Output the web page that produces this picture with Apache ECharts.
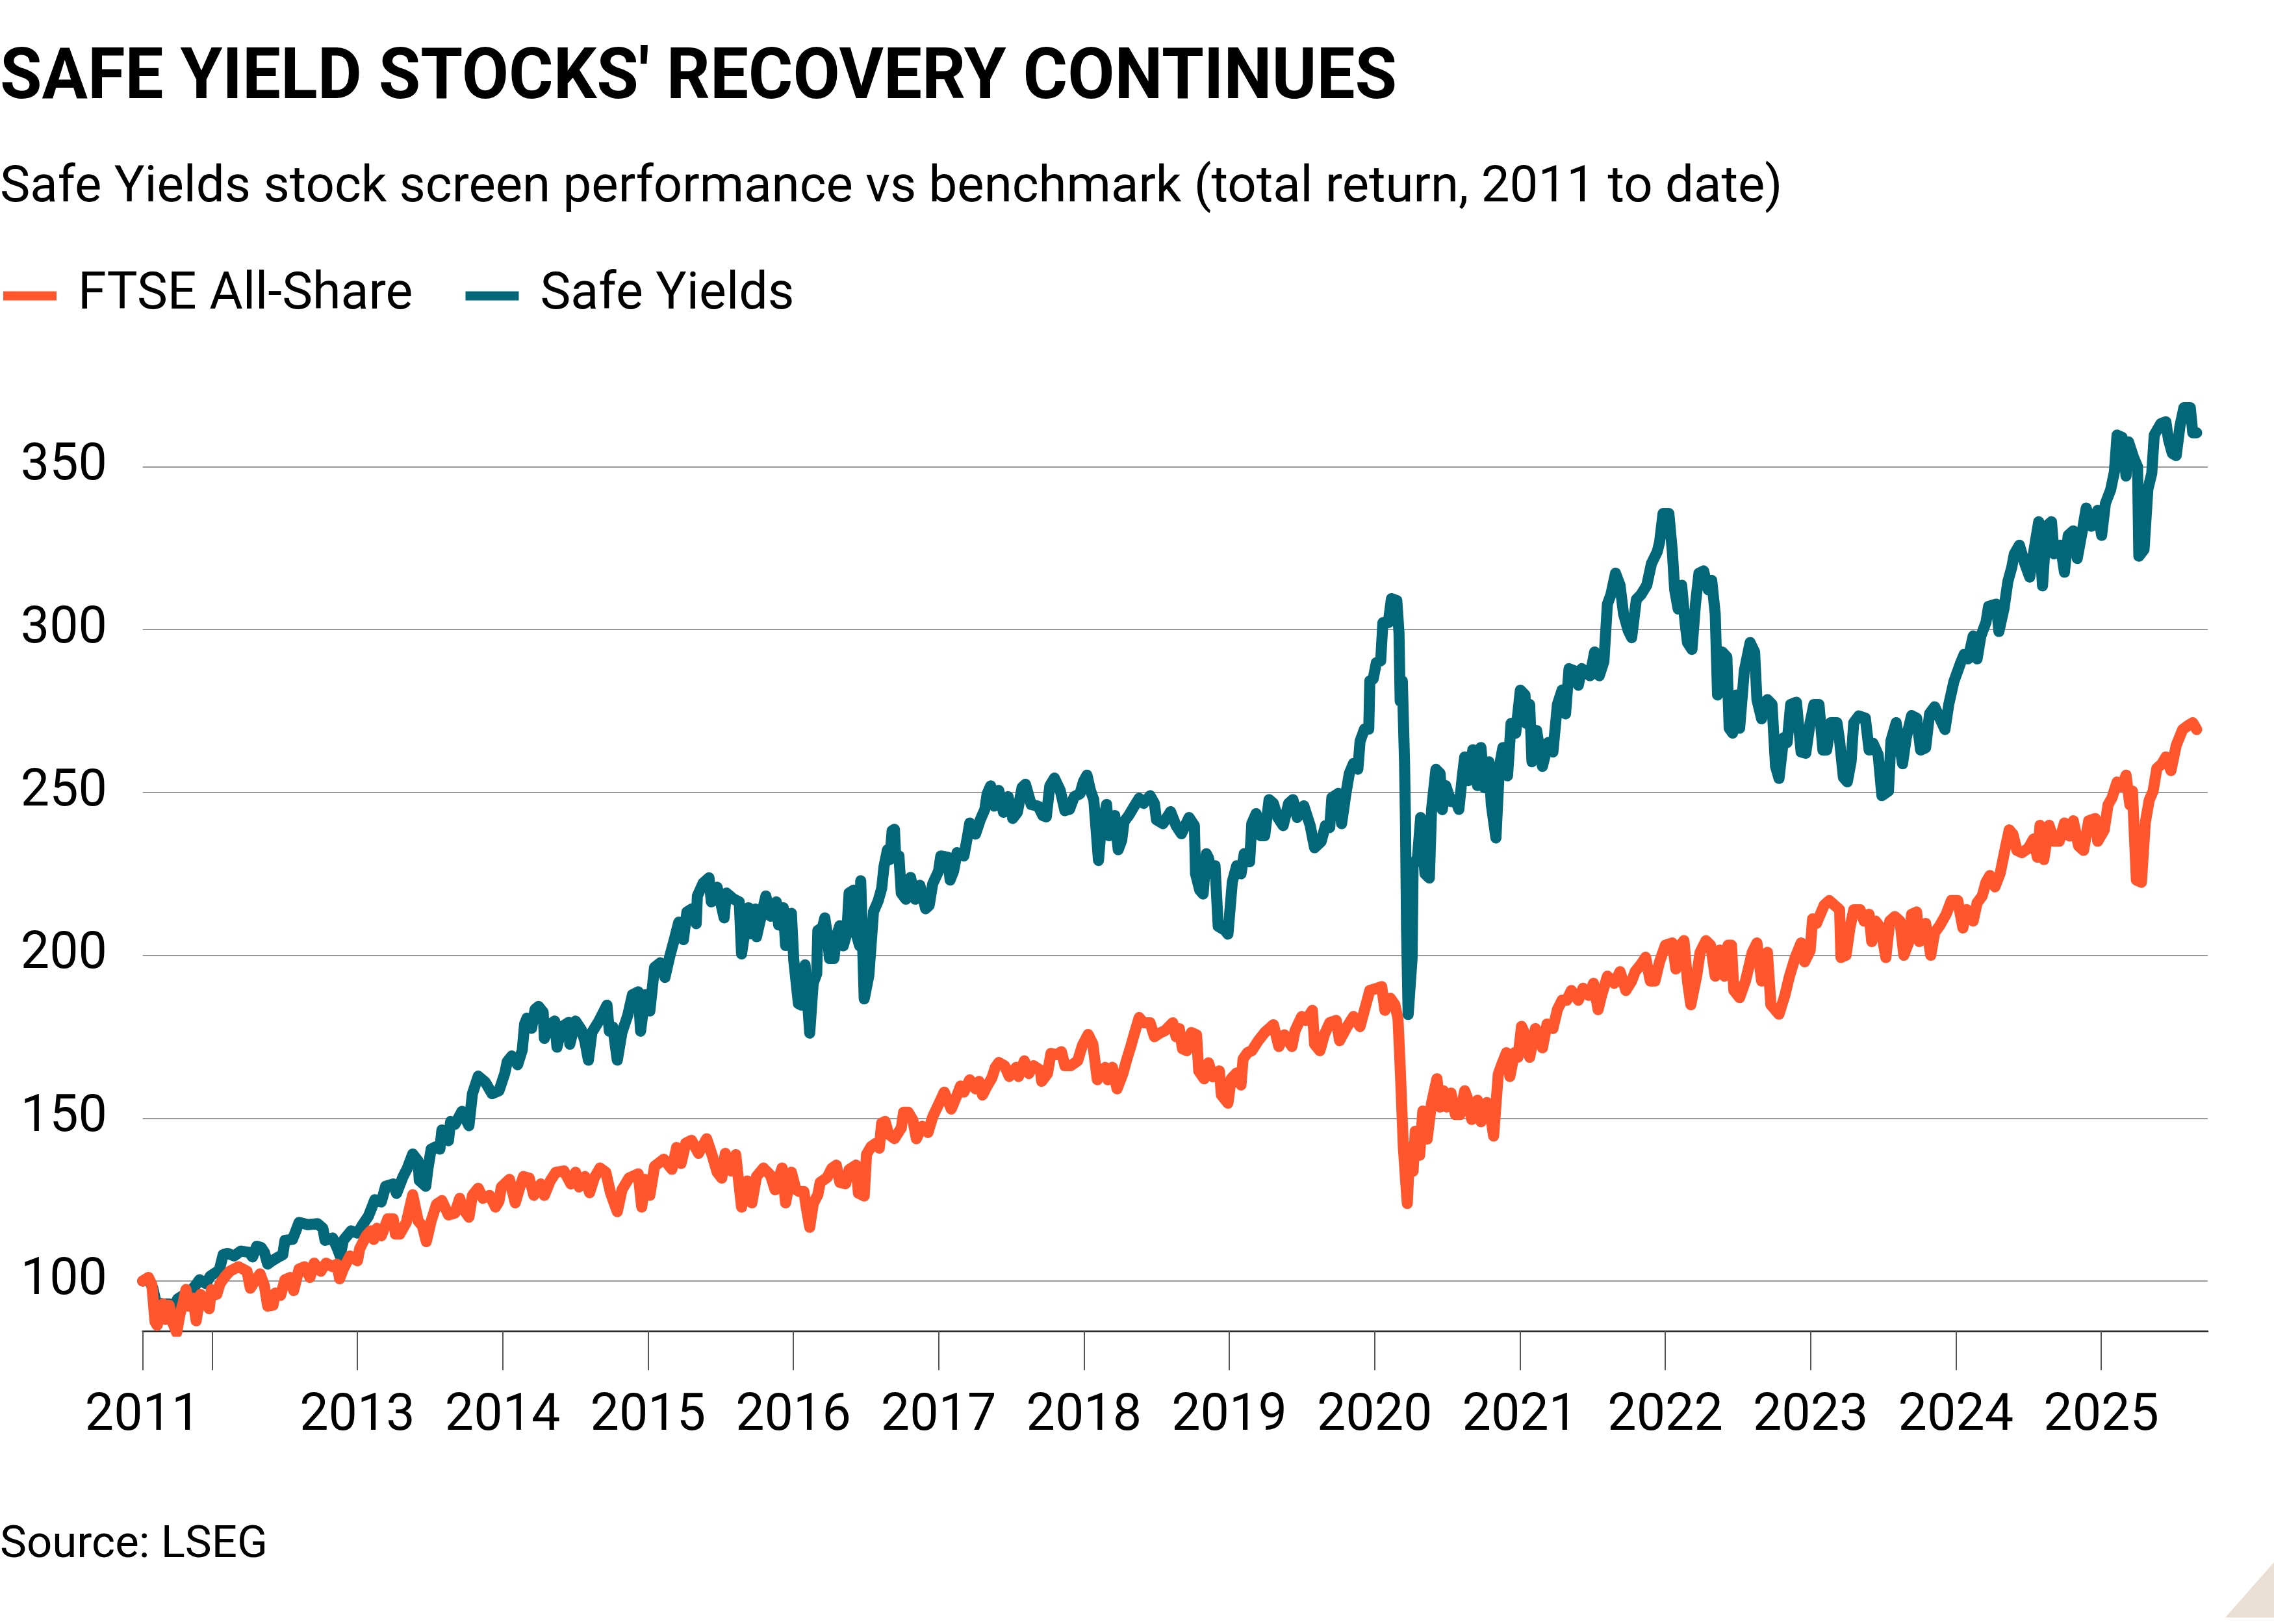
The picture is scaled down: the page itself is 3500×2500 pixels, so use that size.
<!DOCTYPE html>
<html>
<head>
<meta charset="utf-8">
<title>Safe yield stocks' recovery continues</title>
<script src="https://cdn.jsdelivr.net/npm/echarts@6/dist/echarts.min.js"></script>
<style>
  html, body { margin: 0; padding: 0; background: #fff; }
  #chart { width: 3500px; height: 2500px; }
</style>
</head>
<body>
<div id="chart"></div>
<script>
// [decimal year, total return index]
const ftse = [
  [2011.523,100],[2011.563,101.1],[2011.586,98.9],[2011.608,87.5],[2011.623,86.4],[2011.663,93.0],[2011.683,88.2],[2011.705,92.6],[2011.727,87.5],[2011.757,84.2],
  [2011.779,89.7],[2011.802,93.4],[2011.821,97.4],[2011.839,92.3],[2011.869,94.8],[2011.891,87.8],[2011.921,95.9],[2011.958,93.0],[2011.981,91.5],[2011.996,97.4],
  [2012.033,95.9],[2012.055,99.2],[2012.092,101.5],[2012.122,103.0],[2012.182,104.4],[2012.212,103.7],[2012.241,103.0],[2012.264,97.8],[2012.293,100.0],[2012.331,102.2],
  [2012.361,98.5],[2012.383,92.3],[2012.420,92.6],[2012.435,96.3],[2012.472,95.6],[2012.502,100.4],[2012.539,101.1],[2012.562,97.1],[2012.599,103.7],[2012.636,104.4],
  [2012.674,101.1],[2012.703,105.5],[2012.748,103.0],[2012.785,105.5],[2012.830,104.4],[2012.860,105.2],[2012.878,100.7],[2012.904,103.7],[2012.949,107.7],[2013.001,106.2],
  [2013.016,109.9],[2013.061,113.9],[2013.091,115.4],[2013.113,112.8],[2013.135,116.2],[2013.165,113.9],[2013.210,119.1],[2013.247,119.1],[2013.262,114.4],[2013.292,114.4],
  [2013.337,118.0],[2013.381,126.5],[2013.419,118.4],[2013.448,116.9],[2013.475,112.1],[2013.508,118.4],[2013.545,123.6],[2013.582,124.7],[2013.627,120.3],
  [2013.672,120.9],[2013.704,125.4],[2013.728,122.2],[2013.768,119.6],[2013.792,126.3],[2013.832,128.5],[2013.864,125.4],[2013.911,126.3],[2013.951,122.7],[2013.975,124.5],
  [2013.991,128.9],[2014.047,131.2],[2014.087,124.0],[2014.119,128.9],[2014.143,132.1],[2014.183,131.6],[2014.215,126.3],[2014.263,129.8],[2014.287,126.3],[2014.327,130.7],
  [2014.366,133.4],[2014.422,133.8],[2014.470,129.8],[2014.502,133.4],[2014.526,128.9],[2014.566,132.1],[2014.598,127.1],[2014.630,131.6],[2014.670,134.7],[2014.710,133.4],
  [2014.742,127.1],[2014.789,121.3],[2014.821,128.0],[2014.869,131.6],[2014.933,132.9],[2014.957,122.7],[2014.981,131.2],[2015.013,126.3],[2015.045,135.2],[2015.109,137.4],
  [2015.165,134.3],[2015.197,141.0],[2015.228,136.1],[2015.260,142.3],[2015.300,143.2],[2015.348,139.2],[2015.404,143.7],[2015.444,138.3],[2015.476,133.4],[2015.508,131.6],
  [2015.532,139.2],[2015.572,133.8],[2015.604,138.8],[2015.644,122.7],[2015.683,130.7],[2015.715,124.0],[2015.747,132.1],[2015.795,134.7],[2015.843,132.5],[2015.875,128.0],
  [2015.923,134.7],[2015.947,124.0],[2015.987,133.4],[2016.019,128.0],
  [2016.041,127.5],[2016.073,127.5],[2016.089,122.7],[2016.113,116.5],[2016.137,123.7],[2016.169,126.5],[2016.185,130.3],[2016.233,131.8],[2016.265,134.6],[2016.296,135.6],
  [2016.320,130.3],[2016.360,129.9],[2016.384,134.2],[2016.432,135.6],[2016.448,127.0],[2016.488,126.1],[2016.504,138.9],[2016.536,141.3],[2016.568,142.3],[2016.592,140.8],
  [2016.608,148.5],[2016.632,149.0],[2016.656,145.1],[2016.696,143.7],[2016.743,147.0],[2016.759,151.8],[2016.791,151.8],[2016.823,149.4],[2016.847,143.7],[2016.887,147.5],
  [2016.927,145.6],[2016.959,150.4],[2016.999,154.2],[2017.039,158.0],[2017.087,152.8],[2017.127,157.1],[2017.151,159.9],[2017.174,158.0],[2017.214,161.8],[2017.254,159.0],
  [2017.278,161.3],[2017.302,157.1],[2017.334,159.9],[2017.366,162.3],[2017.390,165.6],[2017.414,167.1],[2017.454,166.1],[2017.486,162.8],[2017.534,165.6],[2017.550,162.8],
  [2017.590,167.6],[2017.621,163.7],[2017.653,166.1],[2017.701,164.7],[2017.709,161.3],[2017.749,163.7],[2017.773,169.9],[2017.813,169.5],[2017.845,170.4],[2017.869,166.1],
  [2017.909,166.1],[2017.957,167.6],[2017.989,172.3],[2018.029,175.7],[2018.061,172.8],[2018.092,161.8],[2018.124,164.7],[2018.148,165.6],[2018.164,161.8],[2018.196,165.6],
  [2018.228,159.0],[2018.268,163.7],[2018.292,167.6],[2018.324,172.3],[2018.348,176.1],[2018.380,180.9],
  [2018.410,179.3],[2018.455,179.3],[2018.485,175.0],[2018.529,176.3],[2018.559,176.9],[2018.611,179.3],[2018.634,175.0],[2018.656,177.5],[2018.678,171.3],[2018.708,170.7],
  [2018.738,176.3],[2018.775,175.6],[2018.790,164.5],[2018.827,162.1],[2018.857,167.0],[2018.887,162.7],[2018.932,164.5],[2018.946,157.1],[2018.991,154.6],[2019.013,162.1],
  [2019.051,163.9],[2019.081,160.2],[2019.095,168.2],[2019.125,170.1],[2019.155,170.7],[2019.200,173.8],[2019.244,176.3],[2019.304,178.7],[2019.341,172.0],[2019.379,175.6],
  [2019.431,172.0],[2019.453,176.9],[2019.498,181.2],[2019.528,180.0],[2019.572,183.1],[2019.587,172.7],[2019.624,170.7],[2019.654,175.6],[2019.691,179.3],[2019.736,180.0],
  [2019.759,173.8],[2019.811,178.1],[2019.855,181.2],[2019.900,178.1],[2019.930,183.1],[2019.967,189.2],[2020.012,189.8],[2020.049,190.4],[2020.071,183.1],[2020.109,186.8],
  [2020.139,184.9],[2020.161,180.6],[2020.176,165.8],[2020.198,141.1],[2020.213,131.2],[2020.225,123.8],[2020.243,141.1],[2020.265,133.7],[2020.280,146.0],[2020.310,138.6],
  [2020.332,152.2],[2020.362,143.6],[2020.392,154.6],[2020.429,162.1],[2020.451,153.4],[2020.474,158.4],[2020.496,153.4],[2020.526,157.7],
  [2020.556,151.1],[2020.588,151.1],[2020.620,158.4],[2020.644,155.5],[2020.668,149.6],[2020.708,155.5],[2020.732,148.9],[2020.772,154.8],[2020.795,151.8],[2020.819,144.5],
  [2020.851,163.5],[2020.875,166.5],[2020.907,170.1],[2020.931,162.8],[2020.963,170.1],[2020.987,168.7],[2021.011,178.2],[2021.035,175.8],[2021.067,168.7],[2021.107,177.5],
  [2021.155,171.6],[2021.187,178.9],[2021.227,177.5],[2021.258,183.3],[2021.290,186.2],[2021.322,186.2],[2021.354,189.2],[2021.402,186.2],[2021.434,189.9],[2021.474,187.7],
  [2021.506,191.4],[2021.538,183.3],[2021.562,187.7],[2021.602,193.6],[2021.650,191.4],[2021.689,195.0],[2021.729,189.2],[2021.769,192.1],[2021.793,195.0],[2021.833,197.2],
  [2021.865,199.4],[2021.897,192.1],[2021.929,192.1],[2021.961,198.0],[2022.001,203.1],[2022.049,203.8],[2022.073,195.8],[2022.105,203.1],[2022.129,204.5],[2022.153,192.1],
  [2022.176,184.8],[2022.216,193.6],[2022.240,200.9],[2022.280,204.5],[2022.312,203.1],[2022.344,193.6],[2022.376,201.6],[2022.408,193.6],[2022.432,203.1],[2022.456,203.1],
  [2022.472,189.2],[2022.512,187.0],[2022.552,192.1],[2022.599,200.9],[2022.631,203.8],[2022.663,192.1],[2022.703,200.9],[2022.727,184.8],[2022.783,181.9],[2022.823,187.7],
  [2022.855,193.6],[2022.895,199.4],[2022.935,203.8],[2022.959,198.0],
  [2022.997,201.4],[2023.014,211.2],[2023.041,209.8],[2023.067,212.6],[2023.094,215.4],[2023.129,216.8],[2023.164,215.4],[2023.200,214.0],[2023.209,199.3],[2023.244,200.0],
  [2023.271,208.4],[2023.297,214.0],[2023.341,214.0],[2023.368,210.5],[2023.403,212.6],[2023.421,204.2],[2023.447,210.5],[2023.483,208.4],[2023.518,199.3],[2023.545,210.5],
  [2023.580,211.9],[2023.615,210.5],[2023.642,200.0],[2023.677,204.2],[2023.695,212.6],[2023.730,213.3],[2023.748,204.2],[2023.792,209.8],[2023.827,200.0],[2023.854,207.0],
  [2023.889,209.1],[2023.933,212.6],[2023.969,216.8],[2024.013,216.8],[2024.048,208.4],[2024.075,214.0],[2024.119,210.5],[2024.146,216.1],[2024.181,218.2],[2024.207,222.4],
  [2024.234,224.5],[2024.269,221.0],[2024.305,225.2],[2024.340,232.9],[2024.367,238.5],[2024.393,237.1],[2024.420,232.2],[2024.455,231.5],[2024.499,232.9],[2024.534,235.7],
  [2024.561,230.1],[2024.579,239.9],[2024.605,229.4],[2024.641,239.9],[2024.676,235.0],[2024.711,235.0],[2024.747,240.6],[2024.782,236.6],[2024.808,241.3],[2024.844,233.6],
  [2024.879,232.2],[2024.914,241.3],[2024.959,242.0],[2024.976,235.0],[2025.021,238.5],[2025.047,246.2],[2025.074,248.3],[2025.109,253.2],[2025.144,251.8],[2025.171,255.3],
  [2025.197,246.2],[2025.215,250.4],[2025.242,223.1],[2025.277,222.4],[2025.303,240.6],[2025.330,247.6],[2025.357,250.4],[2025.383,257.4],[2025.418,258.8],[2025.445,260.9],
  [2025.480,256.7],[2025.516,264.4],[2025.560,269.3],[2025.604,270.7],[2025.630,271.4],[2025.657,269.3]
];

const safeYields = [
  [2011.523,100],[2011.563,100.7],[2011.593,97.8],[2011.615,93.4],[2011.660,93.0],[2011.705,93.0],[2011.735,91.9],[2011.764,94.5],[2011.802,95.6],[2011.854,97.1],
  [2011.884,98.5],[2011.914,100.4],[2011.958,99.2],[2011.988,101.5],[2012.025,102.6],[2012.048,103.0],[2012.077,108.1],[2012.107,108.5],[2012.152,107.7],[2012.197,109.2],
  [2012.256,108.8],[2012.279,107.4],[2012.308,110.7],[2012.338,110.3],[2012.361,108.8],[2012.383,105.2],[2012.413,106.2],[2012.457,107.4],[2012.487,108.1],[2012.502,112.5],
  [2012.554,112.8],[2012.577,115.4],[2012.599,118.0],[2012.659,117.3],[2012.726,117.6],[2012.763,116.2],[2012.778,112.5],[2012.830,113.2],[2012.860,110.3],[2012.882,107.7],
  [2012.904,112.5],[2012.957,115.4],[2013.001,114.7],[2013.031,116.9],[2013.076,119.9],[2013.121,125.0],[2013.165,124.3],[2013.195,129.1],[2013.247,129.8],[2013.270,126.9],
  [2013.314,132.0],[2013.344,134.6],[2013.381,139.0],[2013.419,136.8],[2013.426,130.9],[2013.471,129.1],[2013.486,134.6],[2013.508,140.5],[2013.538,141.2],[2013.568,140.5],
  [2013.582,146.4],[2013.627,143.1],[2013.642,149.0],
  [2013.672,148.1],[2013.720,152.1],[2013.768,147.7],[2013.792,157.5],[2013.832,162.9],[2013.880,161.1],[2013.927,157.5],[2013.975,158.4],[2014.015,163.8],[2014.031,167.3],
  [2014.063,169.1],[2014.103,166.4],[2014.135,170.9],[2014.151,178.9],[2014.167,180.7],[2014.199,177.6],[2014.223,183.4],[2014.247,184.3],[2014.279,182.5],[2014.287,174.5],
  [2014.327,178.9],[2014.358,179.8],[2014.374,171.8],[2014.406,178.0],[2014.454,179.4],[2014.462,172.7],[2014.502,179.8],[2014.542,177.1],[2014.566,173.6],[2014.590,167.8],
  [2014.614,176.3],[2014.662,179.8],[2014.718,184.7],[2014.734,176.7],[2014.758,178.0],[2014.789,167.8],[2014.821,176.3],[2014.861,181.6],[2014.893,187.9],[2014.933,188.8],
  [2014.949,176.7],[2014.981,187.9],[2015.013,182.9],[2015.045,196.3],[2015.085,197.7],[2015.117,193.2],[2015.149,199.5],[2015.181,204.8],[2015.212,210.2],[2015.244,204.8],
  [2015.268,213.3],[2015.300,214.2],[2015.332,209.7],[2015.340,218.2],[2015.380,222.2],[2015.420,223.8],[2015.436,216.4],[2015.476,220.9],[2015.524,211.5],[2015.540,219.1],
  [2015.588,217.3],[2015.628,216.4],[2015.644,200.4],[2015.691,214.6],[2015.707,206.6],[2015.739,214.2],[2015.747,205.7],[2015.811,218.2],[2015.843,212.0],[2015.883,216.4],
  [2015.899,209.3],[2015.931,214.6],[2015.947,203.0],[2015.987,212.9],[2016.003,198.6],[2016.035,185.2],[2016.057,184.7],[2016.081,197.1],[2016.113,176.1],[2016.137,191.4],
  [2016.161,194.3],[2016.169,207.6],
  [2016.201,208.6],[2016.217,211.5],[2016.233,206.7],[2016.249,199.0],[2016.280,199.0],[2016.296,205.7],[2016.320,209.1],[2016.344,202.9],[2016.368,206.7],[2016.384,219.1],
  [2016.416,220.0],[2016.432,206.7],[2016.456,202.9],[2016.464,222.9],[2016.488,186.6],[2016.520,193.8],[2016.552,213.4],[2016.584,216.7],[2016.608,220.5],[2016.624,227.2],
  [2016.648,232.4],[2016.664,229.4],[2016.680,238.2],[2016.696,238.7],[2016.704,231.0],[2016.727,230.5],[2016.743,219.1],[2016.775,217.2],[2016.807,223.9],[2016.839,217.2],
  [2016.871,221.5],[2016.911,214.3],[2016.935,215.3],[2016.959,221.9],[2016.999,225.8],[2017.015,230.5],[2017.063,230.1],[2017.079,223.1],[2017.103,225.8],[2017.127,231.5],
  [2017.174,230.5],[2017.198,236.3],[2017.214,240.6],[2017.254,237.2],[2017.286,241.5],[2017.318,244.8],[2017.334,249.6],[2017.358,252.0],[2017.382,245.8],[2017.414,250.6],
  [2017.446,243.9],[2017.478,248.7],[2017.510,242.0],[2017.542,243.9],[2017.574,251.5],[2017.598,252.5],[2017.637,246.3],[2017.685,245.8],[2017.717,242.9],[2017.741,242.5],
  [2017.765,252.0],[2017.797,254.4],[2017.837,250.6],[2017.869,244.4],[2017.901,244.8],[2017.933,248.7],[2017.973,249.6],[2017.997,253.4],[2018.021,255.3],[2018.045,250.6],
  [2018.068,247.7],[2018.100,229.1],[2018.116,237.7],[2018.156,246.3],[2018.172,236.7],[2018.212,242.9],[2018.236,232.4],[2018.260,235.3],[2018.276,241.0],[2018.308,242.9],
  [2018.340,245.3],[2018.380,248.2],
  [2018.410,246.6],[2018.455,249.0],[2018.485,246.6],[2018.499,241.6],[2018.544,240.4],[2018.596,244.1],[2018.634,239.8],[2018.671,237.3],[2018.723,242.3],[2018.760,239.8],
  [2018.768,225.0],[2018.797,220.0],[2018.820,218.8],[2018.842,231.2],[2018.857,229.9],[2018.879,225.0],[2018.902,227.5],[2018.924,208.9],[2018.969,207.7],[2018.991,206.5],
  [2019.021,222.5],[2019.051,227.5],[2019.081,225.0],[2019.103,231.2],[2019.140,228.7],[2019.155,240.4],[2019.185,243.5],[2019.215,236.7],[2019.244,236.7],[2019.274,247.8],
  [2019.304,246.6],[2019.334,242.3],[2019.371,239.8],[2019.408,246.6],[2019.438,247.8],[2019.468,242.3],[2019.513,245.9],[2019.557,239.8],[2019.587,233.0],[2019.632,234.9],
  [2019.662,239.8],[2019.691,239.2],[2019.706,248.4],[2019.751,249.7],[2019.773,240.4],[2019.803,249.7],[2019.826,255.8],[2019.855,258.9],[2019.885,257.1],[2019.900,265.7],
  [2019.930,269.4],[2019.960,269.4],[2019.967,284.2],[2019.990,284.8],[2020.012,289.8],[2020.042,290.4],[2020.057,302.1],[2020.094,302.1],[2020.116,309.5],[2020.153,308.9],
  [2020.168,299.0],[2020.176,278.0],[2020.191,284.2],[2020.206,259.5],[2020.213,239.8],[2020.220,207.7],[2020.231,181.8],[2020.258,199.1],[2020.265,227.5],[2020.295,229.9],
  [2020.317,242.3],[2020.347,225.0],[2020.377,223.7],[2020.392,244.7],[2020.422,257.1],[2020.451,255.8],[2020.466,244.7],[2020.489,252.1],[2020.526,247.2],
  [2020.556,247.7],[2020.580,244.8],[2020.604,255.1],[2020.620,260.9],[2020.644,253.6],[2020.676,263.1],[2020.708,252.1],[2020.732,263.8],[2020.756,251.4],[2020.787,259.4],
  [2020.803,246.3],[2020.835,236.0],[2020.859,258.0],[2020.883,263.8],[2020.915,255.1],[2020.939,271.2],[2020.971,268.2],[2021.003,281.4],[2021.035,279.9],[2021.043,271.2],
  [2021.067,277.0],[2021.083,259.4],[2021.115,269.0],[2021.155,258.0],[2021.195,265.3],[2021.227,262.4],[2021.258,277.0],[2021.290,281.4],[2021.314,274.1],[2021.338,288.0],
  [2021.378,287.3],[2021.402,282.9],[2021.426,288.0],[2021.482,285.8],[2021.514,293.1],[2021.546,285.8],[2021.578,290.2],[2021.602,307.8],[2021.626,310.7],[2021.658,317.3],
  [2021.689,313.6],[2021.713,304.8],[2021.745,299.7],[2021.769,297.5],[2021.801,309.2],[2021.833,310.7],[2021.873,313.6],[2021.905,320.2],[2021.945,323.9],[2021.961,326.8],
  [2021.985,335.6],[2022.025,335.6],[2022.049,323.9],[2022.065,312.2],[2022.089,306.3],[2022.113,313.6],[2022.137,301.9],[2022.153,296.0],[2022.184,293.9],[2022.208,307.8],
  [2022.232,317.3],[2022.264,318.0],[2022.296,312.2],[2022.320,315.1],[2022.344,304.8],[2022.360,279.9],[2022.392,293.1],[2022.424,291.6],[2022.440,269.7],[2022.464,268.2],
  [2022.488,279.9],[2022.512,269.7],[2022.544,287.3],[2022.584,296.0],[2022.615,293.1],[2022.631,278.5],[2022.663,272.6],[2022.703,278.5],[2022.735,277.0],[2022.759,258.0],
  [2022.783,254.3],[2022.815,266.8],[2022.839,265.3],[2022.863,277.0],[2022.903,277.7],[2022.935,262.4],[2022.967,262.0],
  [2022.997,271.4],[2023.023,277.0],[2023.058,277.0],[2023.085,263.0],[2023.111,263.0],[2023.138,271.4],[2023.182,271.4],[2023.200,265.8],[2023.226,254.6],[2023.253,253.2],
  [2023.279,259.5],[2023.297,271.4],[2023.332,273.5],[2023.377,272.8],[2023.403,263.0],[2023.430,265.1],[2023.465,261.6],[2023.491,249.0],[2023.536,250.4],[2023.553,265.8],
  [2023.589,271.4],[2023.633,258.8],[2023.659,266.9],[2023.695,273.6],[2023.730,272.8],[2023.757,263.0],[2023.792,263.7],[2023.819,274.2],[2023.854,276.3],[2023.889,272.8],
  [2023.925,269.3],[2023.951,277.0],[2023.986,284.0],[2024.031,289.6],[2024.057,292.4],[2024.084,291.0],[2024.119,298.0],[2024.146,291.0],[2024.172,298.0],[2024.207,302.2],
  [2024.225,307.1],[2024.278,307.8],[2024.296,299.4],[2024.331,306.4],[2024.358,314.8],[2024.384,319.0],[2024.402,323.2],[2024.437,325.9],[2024.473,320.4],[2024.508,316.1],
  [2024.543,325.9],[2024.570,333.1],[2024.596,313.4],[2024.623,331.7],[2024.658,333.1],[2024.676,323.2],[2024.720,325.9],[2024.747,317.6],[2024.773,328.9],[2024.808,330.3],
  [2024.835,321.8],[2024.870,330.3],[2024.897,337.3],[2024.932,331.7],[2024.976,336.6],[2025.003,328.9],[2025.029,338.7],[2025.065,342.9],[2025.091,348.5],[2025.109,359.7],
  [2025.144,359.0],[2025.171,347.1],[2025.188,357.6],[2025.224,352.7],[2025.250,350.0],[2025.259,322.5],[2025.295,324.6],[2025.321,343.0],[2025.348,348.0],[2025.365,359.7],
  [2025.410,363.2],[2025.445,363.8],[2025.463,358.3],[2025.489,354.1],[2025.516,353.4],[2025.542,362.5],[2025.569,368.1],[2025.613,368.1],[2025.630,360.4],[2025.657,360.4]
];

// first tick sits at the start of the data, the 2012 label is dropped
const tickYears = [2011.523, 2012, 2013, 2014, 2015, 2016, 2017, 2018, 2019, 2020, 2021, 2022, 2023, 2024, 2025];
const labelYears = [2011.523, 2013, 2014, 2015, 2016, 2017, 2018, 2019, 2020, 2021, 2022, 2023, 2024, 2025];

const ORANGE = '#ff562d';
const TEAL = '#03677a';
const FONT = 'Roboto';

const TITLE = "SAFE YIELD STOCKS' RECOVERY CONTINUES";
const TITLE_FONT = 'bold 110px Roboto';
const TITLE_WIDTH = 2150;

// squeeze the title to the condensed width of the original headline
const measureCtx = document.createElement('canvas').getContext('2d');
measureCtx.font = TITLE_FONT;
const titleScale = TITLE_WIDTH / measureCtx.measureText(TITLE).width;

const chart = echarts.init(document.getElementById('chart'));

chart.setOption({
  animation: false,
  backgroundColor: '#fff',
  color: [ORANGE, TEAL],
  grid: {
    left: 219.6,
    right: 102,
    top: 593,
    bottom: 450.7,
    containLabel: false,
    outerBoundsMode: 'none'
  },
  legend: {
    data: ['FTSE All-Share', 'Safe Yields'],
    left: 0,
    top: 411,
    orient: 'horizontal',
    icon: 'rect',
    itemWidth: 82,
    itemHeight: 14,
    itemGap: 81,
    selectedMode: false,
    textStyle: {
      fontFamily: FONT,
      fontSize: 79,
      color: '#000',
      padding: [0, 0, 0, 28]
    }
  },
  xAxis: {
    type: 'value',
    min: 2011.523,
    max: 2025.733,
    splitLine: { show: false },
    axisLine: { show: true, onZero: false, lineStyle: { color: '#222', width: 2.5 } },
    axisTick: {
      show: true,
      customValues: tickYears,
      length: 60,
      lineStyle: { color: '#555', width: 2 }
    },
    axisLabel: {
      customValues: labelYears,
      formatter: v => String(Math.floor(v)),
      margin: 92,
      fontFamily: FONT,
      fontSize: 79,
      color: '#000'
    }
  },
  yAxis: {
    type: 'value',
    min: 84.6,
    max: 375,
    axisLine: { show: false },
    axisTick: { show: false },
    splitLine: {
      show: true,
      showMinLine: false,
      showMaxLine: false,
      lineStyle: { color: '#9a9a9a', width: 2 }
    },
    axisLabel: {
      showMinLabel: false,
      showMaxLabel: false,
      margin: 54.6,
      fontFamily: FONT,
      fontSize: 79,
      color: '#000'
    }
  },
  series: [
    {
      name: 'Safe Yields',
      type: 'line',
      data: safeYields,
      color: TEAL,
      showSymbol: false,
      z: 2,
      lineStyle: { width: 17, cap: 'round', join: 'round' }
    },
    {
      name: 'FTSE All-Share',
      type: 'line',
      data: ftse,
      color: ORANGE,
      showSymbol: false,
      z: 3,
      lineStyle: { width: 17, cap: 'round', join: 'round' }
    }
  ],
  graphic: [
    {
      type: 'text',
      x: 0,
      y: 123.4,
      scaleX: titleScale,
      style: {
        text: TITLE,
        font: TITLE_FONT,
        fill: '#000',
        align: 'left',
        verticalAlign: 'middle'
      }
    },
    {
      type: 'text',
      x: 0,
      y: 290,
      style: {
        text: 'Safe Yields stock screen performance vs benchmark (total return, 2011 to date)',
        font: '78px Roboto',
        fill: '#000',
        align: 'left',
        verticalAlign: 'middle'
      }
    },
    {
      type: 'text',
      x: 0,
      y: 2380,
      style: {
        text: 'Source: LSEG',
        font: '69px Roboto',
        fill: '#000',
        align: 'left',
        verticalAlign: 'middle'
      }
    },
    {
      type: 'polygon',
      shape: { points: [[3425, 2490], [3500, 2405], [3500, 2490]] },
      style: { fill: '#e9dfd5' }
    }
  ]
});
</script>
</body>
</html>
